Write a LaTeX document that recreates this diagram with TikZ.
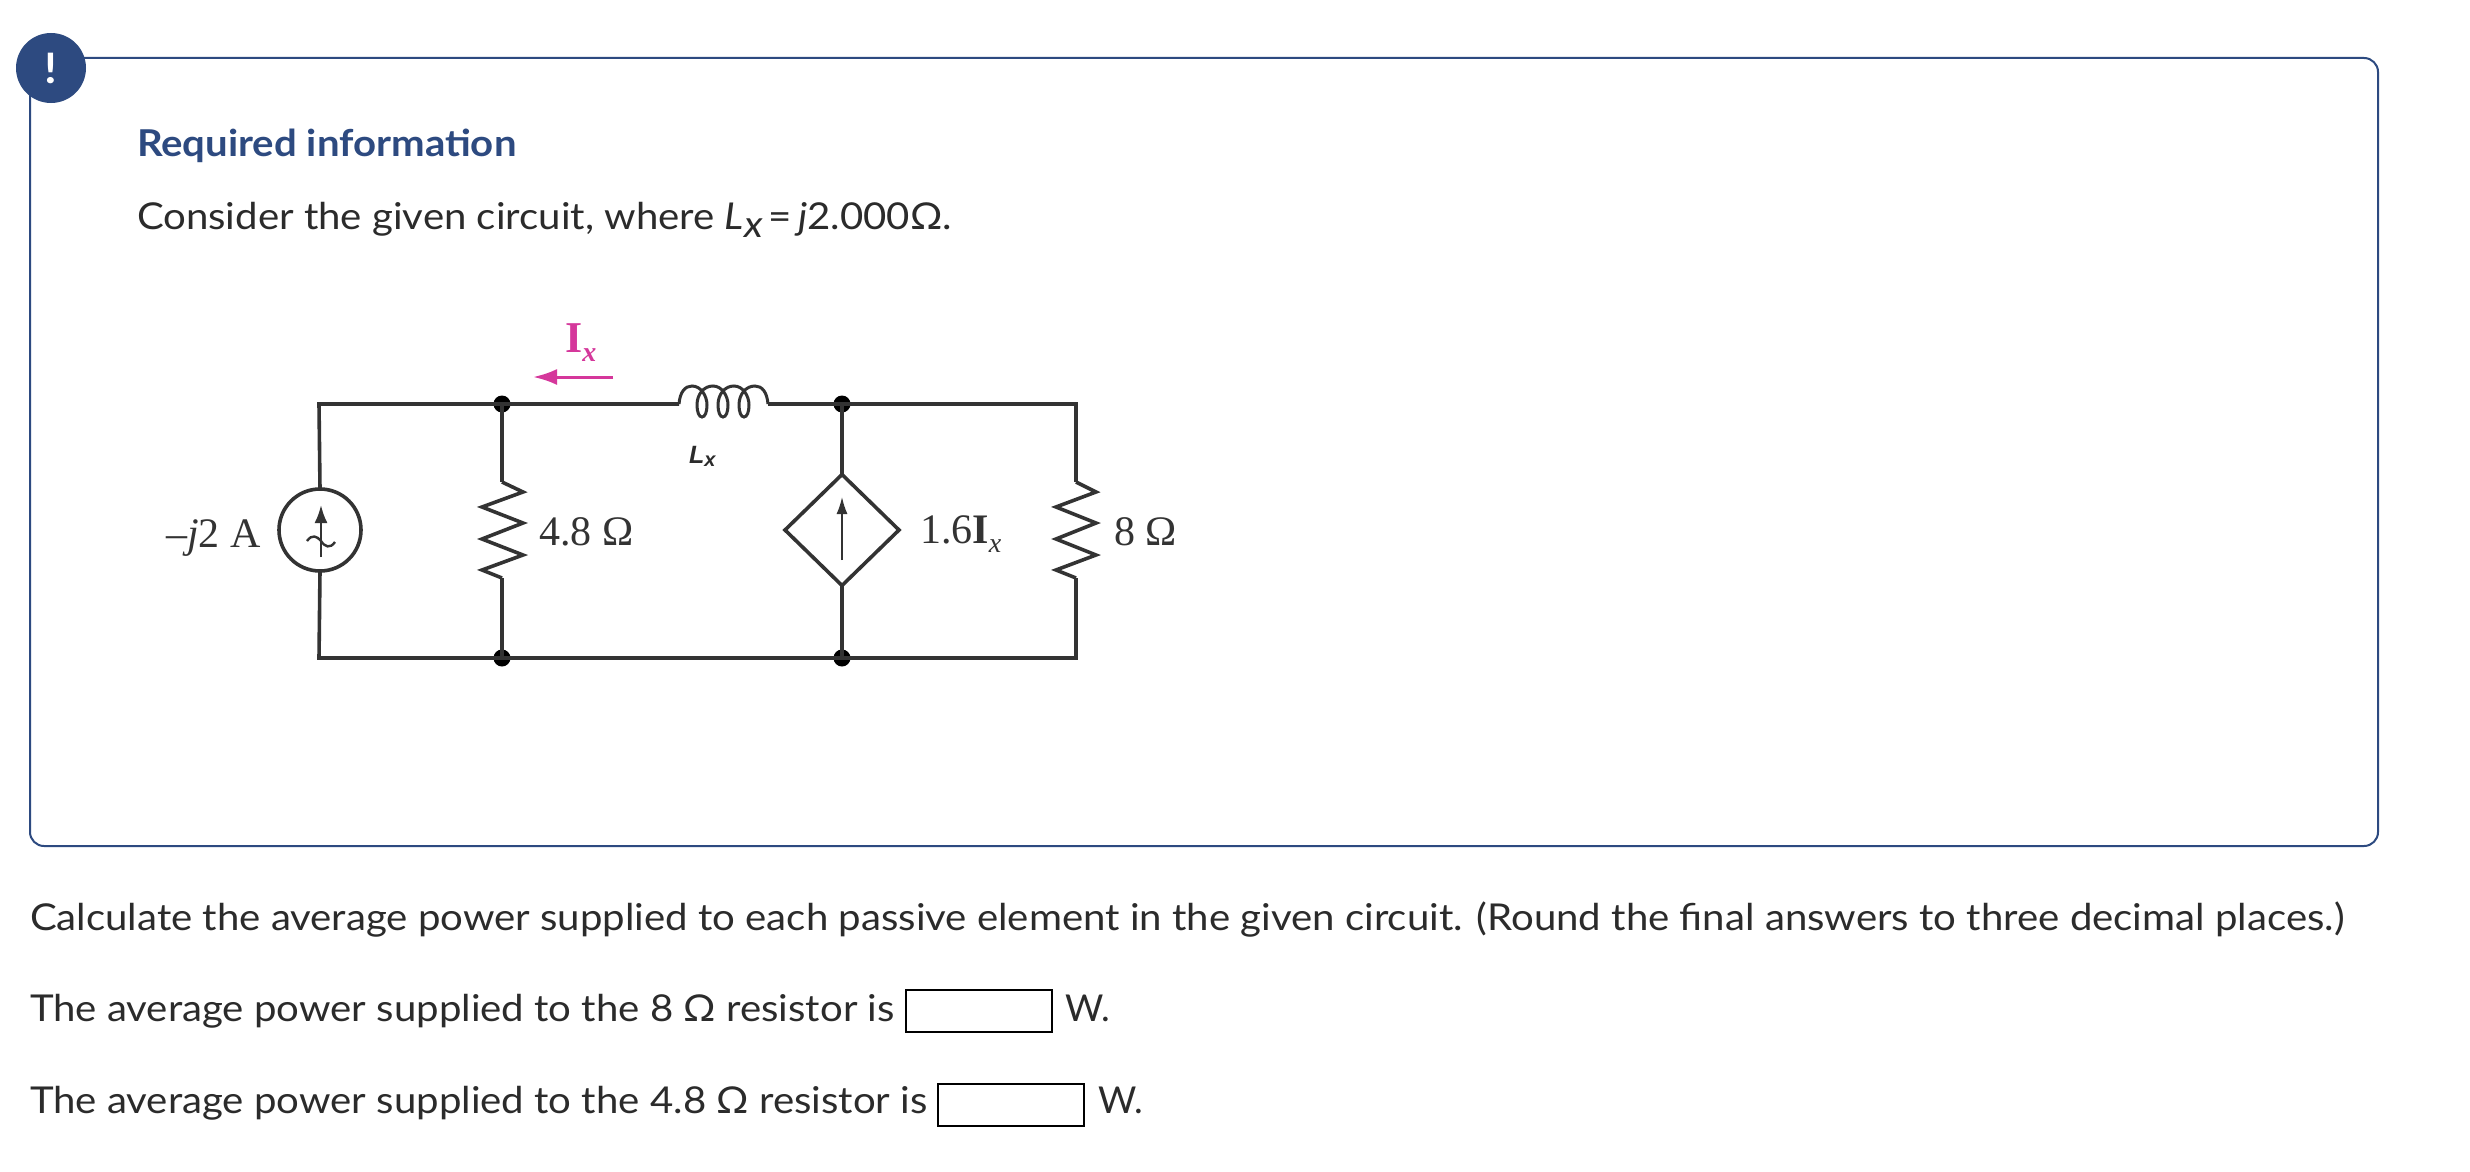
\documentclass[tikz,border=0pt]{standalone}
\usepackage{fontspec}
\usetikzlibrary{shapes.geometric,arrows.meta}
\setmainfont[FakeStretch=1.085]{Lato}
\newfontfamily\circfont{Liberation Serif}
\newfontfamily\lxfont{Liberation Sans}
\newfontfamily\unitfont[FakeStretch=1.0]{Lato}
\definecolor{navy}{HTML}{2D4A80}
\definecolor{wire}{HTML}{333333}
\definecolor{body}{HTML}{2B2B2B}
\definecolor{pinkish}{HTML}{D5379B}
\tikzset{
  txt/.style={anchor=base west,inner sep=0pt,outer sep=0pt,text=body,font=\fontsize{37}{40}\selectfont},
  unit/.style={anchor=base west,inner sep=0pt,outer sep=0pt,text=body,font=\fontsize{37}{40}\selectfont\unitfont},
  head/.style={anchor=base west,inner sep=0pt,outer sep=0pt,text=navy,font=\fontsize{37}{40}\selectfont\bfseries},
  lab/.style={anchor=base west,inner sep=0pt,outer sep=0pt,text=wire,font=\fontsize{42}{46}\selectfont\circfont},
  wireline/.style={draw=wire,line width=3.6pt,line join=miter},
  dotn/.style={circle,fill=black,inner sep=0pt,minimum size=17pt,outer sep=0pt},
  ansbox/.style={draw=black,line width=2pt,minimum width=146pt,minimum height=42pt,inner sep=0pt,outer sep=0pt},
}
\begin{document}
\begin{tikzpicture}[x=1pt,y=-1pt]
\useasboundingbox (0,0) rectangle (2470,1172);
\fill[white] (0,0) rectangle (2470,1172);
% frame and badge
\draw[navy,line width=2pt,rounded corners=14pt] (30,58) rectangle (2378,846);
\node[circle,fill=navy,minimum size=70pt,inner sep=0pt,text=white,font=\fontsize{42}{44}\selectfont\bfseries] (badge) at (51,68) {!};
% text
\node[head] (title) at (137,156) {Required information};
\node[txt] (intro) at (137,229) {Consider the given circuit, where \textit{L}\raisebox{-8pt}{\textit{x}}\,=\,\textit{j}2.000Ω.};
\node[txt] (calc) at (30,930) {Calculate the average power supplied to each passive element in the given circuit. (Round the final answers to three decimal places.)};
\node[txt] (q1) at (30,1021) {The average power supplied to the 8 Ω resistor is};
\node[ansbox] (a1) at (979,1011) {};
\node[unit] (w1) at (1065,1021) {W.};
\node[txt] (q2) at (30,1113) {The average power supplied to the 4.8 Ω resistor is};
\node[ansbox] (a2) at (1011,1105) {};
\node[unit] (w2) at (1098,1113) {W.};
% circuit junctions and corners
\coordinate (tl) at (319,404);
\coordinate (bl) at (319,658);
\coordinate (tr) at (1076,404);
\coordinate (br) at (1076,658);
\coordinate (la) at (679,404);
\coordinate (lb) at (768,404);
\coordinate (r1t) at (502,482);
\coordinate (r1b) at (502,578);
\coordinate (r2t) at (1076,482);
\coordinate (r2b) at (1076,578);
\node[dotn] (n1) at (502,404) {};
\node[dotn] (n2) at (842,404) {};
\node[dotn] (n3) at (502,658) {};
\node[dotn] (n4) at (842,658) {};
\node[circle,draw=wire,line width=3.6pt,minimum size=82pt,inner sep=0pt,outer sep=0pt] (src) at (320,530) {};
\node[diamond,draw=wire,line width=3.6pt,minimum width=114pt,minimum height=111pt,inner sep=0pt,outer sep=0pt] (dep) at (842,530) {};
% wires
\draw[wireline] (src.north) -- (tl) -- (n1.center) -- (la);
\draw[wireline] (lb) -- (n2.center) -- (tr) -- (r2t);
\draw[wireline] (src.south) -- (bl) -- (n3.center) -- (n4.center) -- (br) -- (r2b);
\draw[wireline] (n1.center) -- (r1t);
\draw[wireline] (r1b) -- (n3.center);
\draw[wireline] (n2.center) -- (dep.north);
\draw[wireline] (dep.south) -- (n4.center);
% resistors
\draw[wireline] (r1t) -- ++(21,10) -- ++(-41,15) -- ++(41,16) -- ++(-41,16) -- ++(41,16) -- ++(-41,15) -- (r1b);
\draw[wireline] (r2t) -- ++(20,10) -- ++(-40,15) -- ++(40,16) -- ++(-40,16) -- ++(40,16) -- ++(-40,15) -- (r2b);
% inductor
\draw[wireline,line width=3pt] (la) .. controls (680,392) and (685,386) .. (692,386)
  .. controls (701,386) and (707,396) .. (707,405) .. controls (707,412) and (705,417) .. (702,417)
  .. controls (699,417) and (697,412) .. (697,405) .. controls (697,394) and (704,386) .. (713,386)
  .. controls (722,386) and (728,396) .. (728,405) .. controls (728,412) and (726,417) .. (723,417)
  .. controls (720,417) and (718,412) .. (718,405) .. controls (718,394) and (725,386) .. (734,386)
  .. controls (743,386) and (749,396) .. (749,405) .. controls (749,412) and (747,417) .. (744,417)
  .. controls (741,417) and (739,412) .. (739,405) .. controls (739,394) and (746,386) .. (755,386)
  .. controls (762,386) and (767,392) .. (lb);
% source symbol
\coordinate (sa) at (321,557);
\coordinate (sb) at (321,505);
\draw[wire,line width=2.4pt,-{Latex[length=18pt,width=13pt]}] (sa) -- (sb);
\draw[wire,line width=2.4pt] (307,541) .. controls (312,534) and (317,536) .. (321,541) .. controls (325,547) and (330,549) .. (335,542);
% dependent arrow
\coordinate (da) at (842,560);
\coordinate (db) at (842,497);
\draw[wire,line width=1.6pt,-{Latex[length=17pt,width=11pt]}] (da) -- (db);
% current arrow
\coordinate (ia) at (613,377);
\coordinate (ib) at (533,377);
\draw[pinkish,line width=3pt,-{Latex[length=24pt,width=16pt]}] (ia) -- (ib);
% circuit labels
\node[anchor=base west,inner sep=0pt,text=pinkish,font=\fontsize{44}{46}\selectfont\circfont] (ix) at (565,352) {\textbf{I}\raisebox{-9pt}{\fontsize{28}{30}\selectfont\textbf{\textit{x}}}};
\node[lab] (ls) at (166,547) {–\textit{j}2 A};
\node[lab] (l48) at (539,545) {4.8 Ω};
\node[lab] (l16) at (920,543) {1.6\textbf{I}\raisebox{-9pt}{\fontsize{28}{30}\selectfont\textit{x}}};
\node[lab] (l8) at (1114,545) {8 Ω};
\node[anchor=base west,inner sep=0pt,text=body,font=\fontsize{25}{28}\selectfont\lxfont\bfseries\itshape] (lx) at (689,463) {L\raisebox{-3pt}{\fontsize{20}{22}\selectfont x}};
\end{tikzpicture}
\end{document}
